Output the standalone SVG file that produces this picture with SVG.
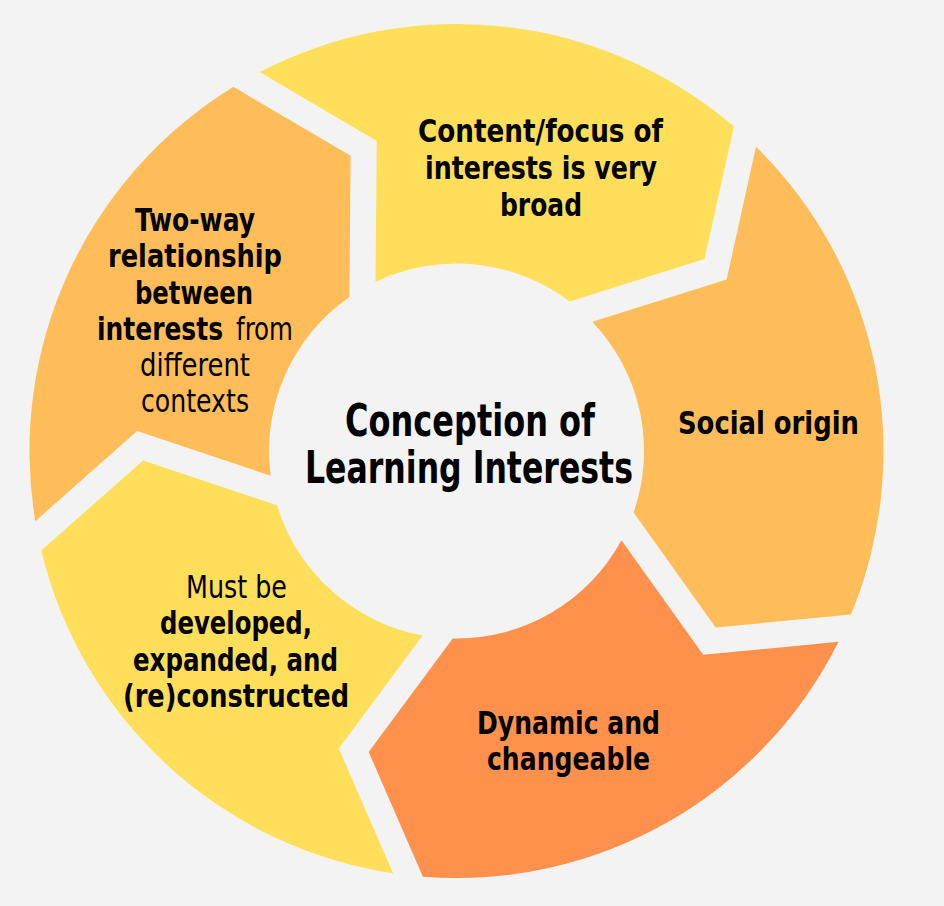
<svg xmlns="http://www.w3.org/2000/svg" xmlns:xlink="http://www.w3.org/1999/xlink" width="944" height="906" viewBox="0 0 944 906">
  <defs>
    <path id="segshape" d="M -238.51,-354.18 A 427 427 0 0 1 238.86,-353.96 L 224.66,-218.73 L 95.61,-161.29 A 187.5 187.5 0 0 0 -99.60,-158.86 L -114.31,-298.90 Z"/>
  </defs>
  <style>
    .bg { fill: #f3f3f3; }
    .yellow { fill: #ffde59; }
    .light { fill: #ffbd59; }
    .orange { fill: #ff914d; }
    text { font-family: "Liberation Sans Narrow", "DejaVu Sans Condensed", "DejaVu Sans", sans-serif; font-stretch: condensed; fill: #000; }
    .t { font-size: 32px; font-weight: bold; }
    .r { font-weight: normal; }
    .c { font-size: 44px; font-weight: bold; }
  </style>
  <rect class="bg" x="0" y="0" width="944" height="906"/>

  <g id="node-content">
    <use xlink:href="#segshape" href="#segshape" class="yellow" transform="translate(456.5 451) rotate(6.5)"/>
    <text class="t"><tspan x="418" y="142" textLength="245" lengthAdjust="spacingAndGlyphs">Content/focus of</tspan><tspan x="425" y="179" textLength="232" lengthAdjust="spacingAndGlyphs">interests is very</tspan><tspan x="500" y="216" textLength="82" lengthAdjust="spacingAndGlyphs">broad</tspan></text>
  </g>

  <g id="node-social">
    <use xlink:href="#segshape" href="#segshape" class="light" transform="translate(456.5 451) rotate(78.5)"/>
    <text class="t" x="678" y="434" textLength="181" lengthAdjust="spacingAndGlyphs">Social origin</text>
  </g>

  <g id="node-dynamic">
    <use xlink:href="#segshape" href="#segshape" class="orange" transform="translate(456.5 451) rotate(150.5)"/>
    <text class="t"><tspan x="477" y="734" textLength="183" lengthAdjust="spacingAndGlyphs">Dynamic and</tspan><tspan x="487" y="770" textLength="163" lengthAdjust="spacingAndGlyphs">changeable</tspan></text>
  </g>

  <g id="node-developed">
    <use xlink:href="#segshape" href="#segshape" class="yellow" transform="translate(456.5 451) rotate(222.5)"/>
    <text class="t"><tspan class="r" x="186" y="598" textLength="101" lengthAdjust="spacingAndGlyphs">Must be</tspan><tspan x="160" y="634" textLength="152" lengthAdjust="spacingAndGlyphs">developed,</tspan><tspan x="133" y="671" textLength="205" lengthAdjust="spacingAndGlyphs">expanded, and</tspan><tspan x="123" y="707" textLength="226" lengthAdjust="spacingAndGlyphs">(re)constructed</tspan></text>
  </g>

  <g id="node-twoway">
    <use xlink:href="#segshape" href="#segshape" class="light" transform="translate(456.5 451) rotate(294.5)"/>
    <text class="t"><tspan x="135" y="231" textLength="120" lengthAdjust="spacingAndGlyphs">Two-way</tspan><tspan x="108" y="267" textLength="174" lengthAdjust="spacingAndGlyphs">relationship</tspan><tspan x="135" y="304" textLength="118" lengthAdjust="spacingAndGlyphs">between</tspan><tspan x="97" y="340" textLength="126" lengthAdjust="spacingAndGlyphs">interests</tspan> <tspan class="r" x="236" y="340" textLength="57" lengthAdjust="spacingAndGlyphs">from</tspan><tspan class="r" x="140" y="376" textLength="110" lengthAdjust="spacingAndGlyphs">different</tspan><tspan class="r" x="141" y="412" textLength="108" lengthAdjust="spacingAndGlyphs">contexts</tspan></text>
  </g>

  <g id="node-center">
    <text class="c"><tspan x="345" y="436" textLength="250" lengthAdjust="spacingAndGlyphs">Conception of</tspan><tspan x="305" y="483" textLength="328" lengthAdjust="spacingAndGlyphs">Learning Interests</tspan></text>
  </g>
</svg>
